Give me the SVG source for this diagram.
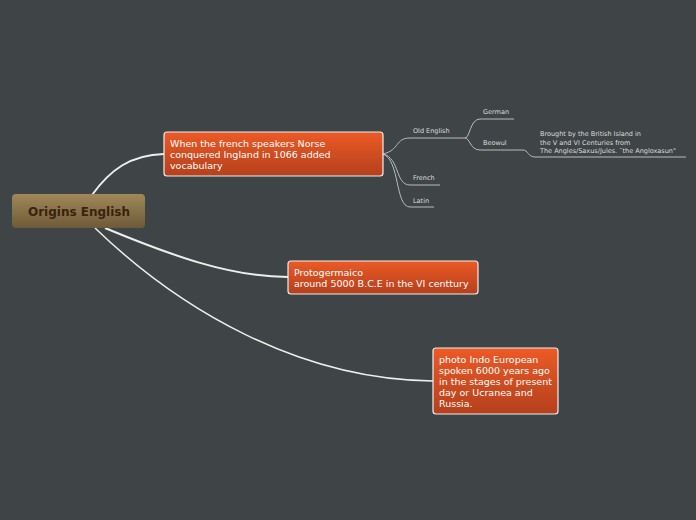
<svg xmlns="http://www.w3.org/2000/svg" width="696" height="520" viewBox="0 0 696 520">
<defs>
<linearGradient id="og" x1="0" y1="0" x2="0" y2="1"><stop offset="0" stop-color="#ec5a26"/><stop offset="1" stop-color="#b4401c"/></linearGradient>
<linearGradient id="cg" x1="0" y1="0" x2="0" y2="1"><stop offset="0" stop-color="#a08858"/><stop offset="1" stop-color="#6e5a38"/></linearGradient>
<style>
.t{font-family:"DejaVu Sans",sans-serif;font-size:9.5px;fill:#fff}
.s{font-family:"DejaVu Sans",sans-serif;font-size:6.5px;fill:#ddd}
.b{fill:url(#og);stroke:#eee;stroke-width:1.2}
.c{fill:none;stroke:#eee}
.l{fill:none;stroke:#bbb;stroke-width:1}
</style>
</defs>
<rect width="696" height="520" fill="#3f4446"/>
<g id="connectors">
<path class="c" stroke-width="2" d="M92,195 C110,170 130,155 164,154"/>
<path class="c" stroke-width="2" d="M105,228 C170,255 230,277 288,277"/>
<path class="c" stroke-width="1.5" d="M95,228 C180,310 300,380 433,381"/>
<path class="l" d="M383,154 C400,150 395,138 410,138 L450,138"/>
<path class="l" d="M383,154 C400,158 395,185 410,185 L440,185"/>
<path class="l" d="M383,154 C400,160 395,207 410,207 L434,207"/>
<path class="l" d="M450,138 L465,138 C470,138 470,119 480,119 L514,119"/>
<path class="l" d="M465,138 C470,138 470,150 480,150 L523,150 C528,150 528,157 535,157 L686,157"/>
</g>
<g id="center"><rect x="12" y="194" width="133" height="34" rx="4" fill="url(#cg)"/>
<text x="79" y="216" text-anchor="middle" style="font-family:'DejaVu Sans',sans-serif;font-size:12px;font-weight:bold;fill:#3a2210">Origins English</text></g>
<g id="n1"><rect class="b" x="164" y="132" width="219" height="44" rx="3"/>
<text class="t" x="170" y="147">When the french speakers Norse</text>
<text class="t" x="170" y="158">conquered Ingland in 1066 added</text>
<text class="t" x="170" y="169">vocabulary</text></g>
<g id="n2"><rect class="b" x="288" y="261" width="190" height="33" rx="3"/>
<text class="t" x="294" y="276">Protogermaico</text>
<text class="t" x="294" y="287">around 5000 B.C.E in the VI centtury</text></g>
<g id="n3"><rect class="b" x="433" y="348" width="125" height="66" rx="3"/>
<text class="t" x="439" y="363">photo Indo European</text>
<text class="t" x="439" y="374">spoken 6000 years ago</text>
<text class="t" x="439" y="385">in the stages of present</text>
<text class="t" x="439" y="396">day or Ucranea and</text>
<text class="t" x="439" y="407">Russia.</text></g>
<g id="oe"><text class="s" x="413" y="133">Old English</text></g>
<g id="fr"><text class="s" x="413" y="180">French</text></g>
<g id="la"><text class="s" x="413" y="203">Latin</text></g>
<g id="ge"><text class="s" x="483" y="114">German</text></g>
<g id="be"><text class="s" x="483" y="145">Beowul</text></g>
<g id="br"><text class="s" x="540" y="136">Brought by the British Island in</text>
<text class="s" x="540" y="145"> the V and VI Centuries from</text>
<text class="s" x="540" y="153">The Angles/Saxus/Jules. ¨the Angloxasun"</text></g>
</svg>
